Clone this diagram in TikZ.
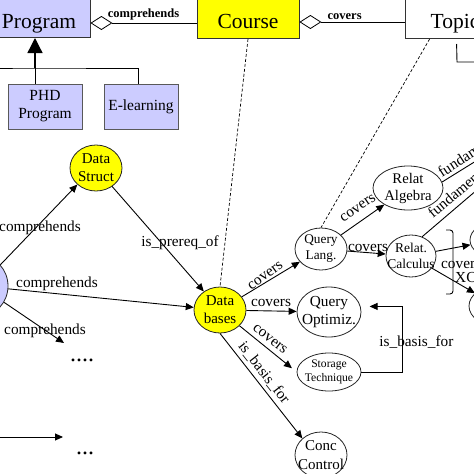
\documentclass[tikz,border=0pt]{standalone}
\usepackage{fontspec}
\setmainfont{Liberation Serif}
\usetikzlibrary{shapes.geometric,arrows.meta,calc}
\definecolor{lav}{RGB}{204,204,255}
\definecolor{ylw}{RGB}{255,255,0}
\newcommand{\fsz}[2]{\fontsize{#1pt}{#2pt}\selectfont}
\begin{document}
\begin{tikzpicture}[x=1pt,y=-1pt,
  clsbox/.style={draw=black!80, line width=0.8pt, inner sep=0pt, font=\fsz{21.5}{24}},
  lavbox/.style={draw=black!65, fill=lav, line width=0.8pt, inner sep=0pt, align=center, font=\fsz{15.5}{18}},
  circ/.style={ellipse, draw=black!85, line width=0.8pt, inner sep=0pt},
  ctext/.style={align=center, inner sep=0pt},
  arr/.style={-{Triangle[length=8pt,width=7pt]}, line width=0.9pt},
  lbl/.style={font=\fsz{15.3}{17}, inner sep=0pt},
  toplbl/.style={font=\bfseries\fsz{12.5}{14}, inner sep=2pt},
  dashline/.style={line width=0.7pt, dash pattern=on 3pt off 2pt},
  solidline/.style={line width=0.9pt},
  aggr/.style={line width=0.8pt, {Diamond[open,length=22pt,width=14pt,line width=0.8pt]}-}
]
\useasboundingbox (0,0) rectangle (474,474);
\fill[white] (0,0) rectangle (474,474);
\clip (0,0) rectangle (474,474);

% class boxes
\node[clsbox, fill=lav, anchor=south, minimum width=102pt, text height=40pt, text depth=9pt] (prog) at (39,38) {Program};
\node[clsbox, fill=ylw, anchor=south, minimum width=102pt, text height=40pt, text depth=10pt] (course) at (248,39) {Course};
\node[clsbox, fill=white, anchor=south, minimum width=100pt, text height=40pt, text depth=10pt] (topic) at (455,39) {Topic};

\draw[aggr] ($(prog.south east)+(0,-15)$) -- node[toplbl, above] (lcomp) {comprehends} ($(course.south west)+(0,-16)$);
\draw[aggr] ($(course.south east)+(0,-17)$) -- node[toplbl, above, pos=0.43] (lcov) {covers} ($(topic.south west)+(0,-17)$);

% subclasses
\node[lavbox, minimum width=74pt, minimum height=45pt] (phd) at (45,106.5) {PHD\\Program};
\node[lavbox, minimum width=74pt, minimum height=45pt] (elearn) at (141,106.5) {E-learning};
\coordinate (junc) at (35,68);
\coordinate (jl) at (-10,68);
\draw[line width=1.3pt, -{Triangle[length=15pt,width=15pt]}] (junc) -- (junc |- prog.south);
\draw[solidline] (jl) -- (junc) -| ($(elearn.north)+(-3,0)$);
\draw[solidline] (phd.north -| junc) -- (junc);
\coordinate (tg) at (457,62);
\coordinate (tgr) at (490,62);
\draw[solidline] ($(topic.south west)+(52,5)$) -- (tg) -- (tgr);

% concept nodes
\node[circ, fill=lav, minimum width=56pt, minimum height=60pt] (lc) at (-20,286) {};
\node[circ, fill=ylw, minimum width=52pt, minimum height=46pt] (ds) at (96,168) {};
\node[ctext, font=\fsz{15}{18}] (dst) at (ds) {Data\\Struct};
\node[circ, fill=ylw, minimum width=52pt, minimum height=46pt] (db) at (220,310) {};
\node[ctext, font=\fsz{15}{18}] (dbt) at (db) {Data\\bases};
\node[circ, fill=white, minimum width=52pt, minimum height=42pt] (ql) at (321,249) {};
\node[ctext, font=\fsz{13.3}{16}] (qlt) at (ql) {Query\\Lang.};
\node[circ, fill=white, minimum width=70pt, minimum height=44pt] (ra) at (408,188) {};
\node[ctext, font=\fsz{14.7}{17}] (rat) at (ra) {Relat\\Algebra};
\node[circ, fill=white, minimum width=50pt, minimum height=42pt] (rc) at (411,256) {};
\node[ctext, font=\fsz{13.5}{16}] (rct) at (rc) {Relat.\\Calculus};
\node[circ, fill=white, minimum width=64pt, minimum height=50pt] (qo) at (329,312) {};
\node[ctext, font=\fsz{15.3}{18}] (qot) at (qo) {Query\\Optimiz.};
\node[circ, fill=white, minimum width=64pt, minimum height=38pt] (st) at (329,372) {};
\node[ctext, font=\fsz{11.6}{14}] (stt) at (st) {Storage\\Technique};
\node[circ, fill=white, minimum width=52pt, minimum height=46pt] (cc) at (321,455) {};
\node[ctext, font=\fsz{15}{19}] (cct) at (cc) {Conc\\Control};
\node[circ, fill=white, minimum width=52pt, minimum height=36pt] (r1) at (496,240) {};
\node[circ, fill=white, minimum width=56pt, minimum height=40pt] (r2) at (497,306) {};

% dashed links
\draw[dashline] (course.south) -- (db.north);
\draw[dashline] ($(topic.south west)+(25,0)$) -- (ql.north);

% arrows from left concept
\coordinate (d1t) at (64,343);
\draw[arr] (lc) -- (ds.south west);
\draw[arr] (lc) -- (db);
\draw[arr] (lc) -- (d1t);
\node[lbl] (l1) at (40,228) {comprehends};
\node[lbl] (l2) at (57,284) {comprehends};
\node[lbl] (l3) at (45,331) {comprehends};
\node[font=\fsz{24}{26}, inner sep=0pt, anchor=base] (dots1) at (82,361) {....};
\coordinate (h0) at (-10,437);
\coordinate (h1) at (63,437);
\draw[arr] (h0) -- (h1);
\node[font=\fsz{24}{26}, inner sep=0pt, anchor=base] (dots2) at (85,454) {...};

% other arrows
\draw[arr] (ds) -- (db);
\node[lbl] (l4) at (180,243) {is\_prereq\_of};
\draw[arr] (db) -- (ql);
\node[lbl, rotate=36] (l5) at (265.5,275.5) {covers};
\draw[arr] (ql) -- (ra);
\node[lbl, rotate=34] (l6) at (358,208) {covers};
\draw[arr] (ql) -- (rc);
\node[lbl] (l7) at (368,247.5) {covers};
\draw[arr] (db) -- (qo);
\node[lbl] (l8) at (271,302.5) {covers};
\draw[arr, shorten >=6pt] (db) -- (st.west);
\node[lbl, rotate=-38] (l9) at (270,339) {covers};
\draw[arr] (db.south) -- (cc.north west);
\node[lbl, rotate=-52] (l10) at (264,373) {is\_basis\_for};
\draw[arr, shorten >=9pt] (st.east) -- ++(41,0) coordinate (sq) |- (qo.10);
\node[lbl] (l11) at ($(sq)+(14,-30)$) {is\_basis\_for};

% right part
\coordinate (f1) at (505,143);
\coordinate (f2) at (505,166);
\draw[solidline] (ra.10) -- (f1);
\node[lbl, rotate=33, anchor=base west] (l12) at (442,178) {fundam};
\draw[solidline] (rc.60) -- (f2);
\node[lbl, rotate=40, anchor=base west] (l13) at (433,219) {fundamen};
\draw[arr] (rc) -- (r1);
\draw[arr] (rc) -- (r2);
\draw[solidline, rounded corners=3pt] (446,230) coordinate (b0) -- (453,230) -- (453,294) -- (446,294) coordinate (b1);
\node[lbl, anchor=base west] (l14) at (441,268) {covers};
\node[lbl, anchor=base west] (l15) at (455,282) {XC};
\end{tikzpicture}
\end{document}
